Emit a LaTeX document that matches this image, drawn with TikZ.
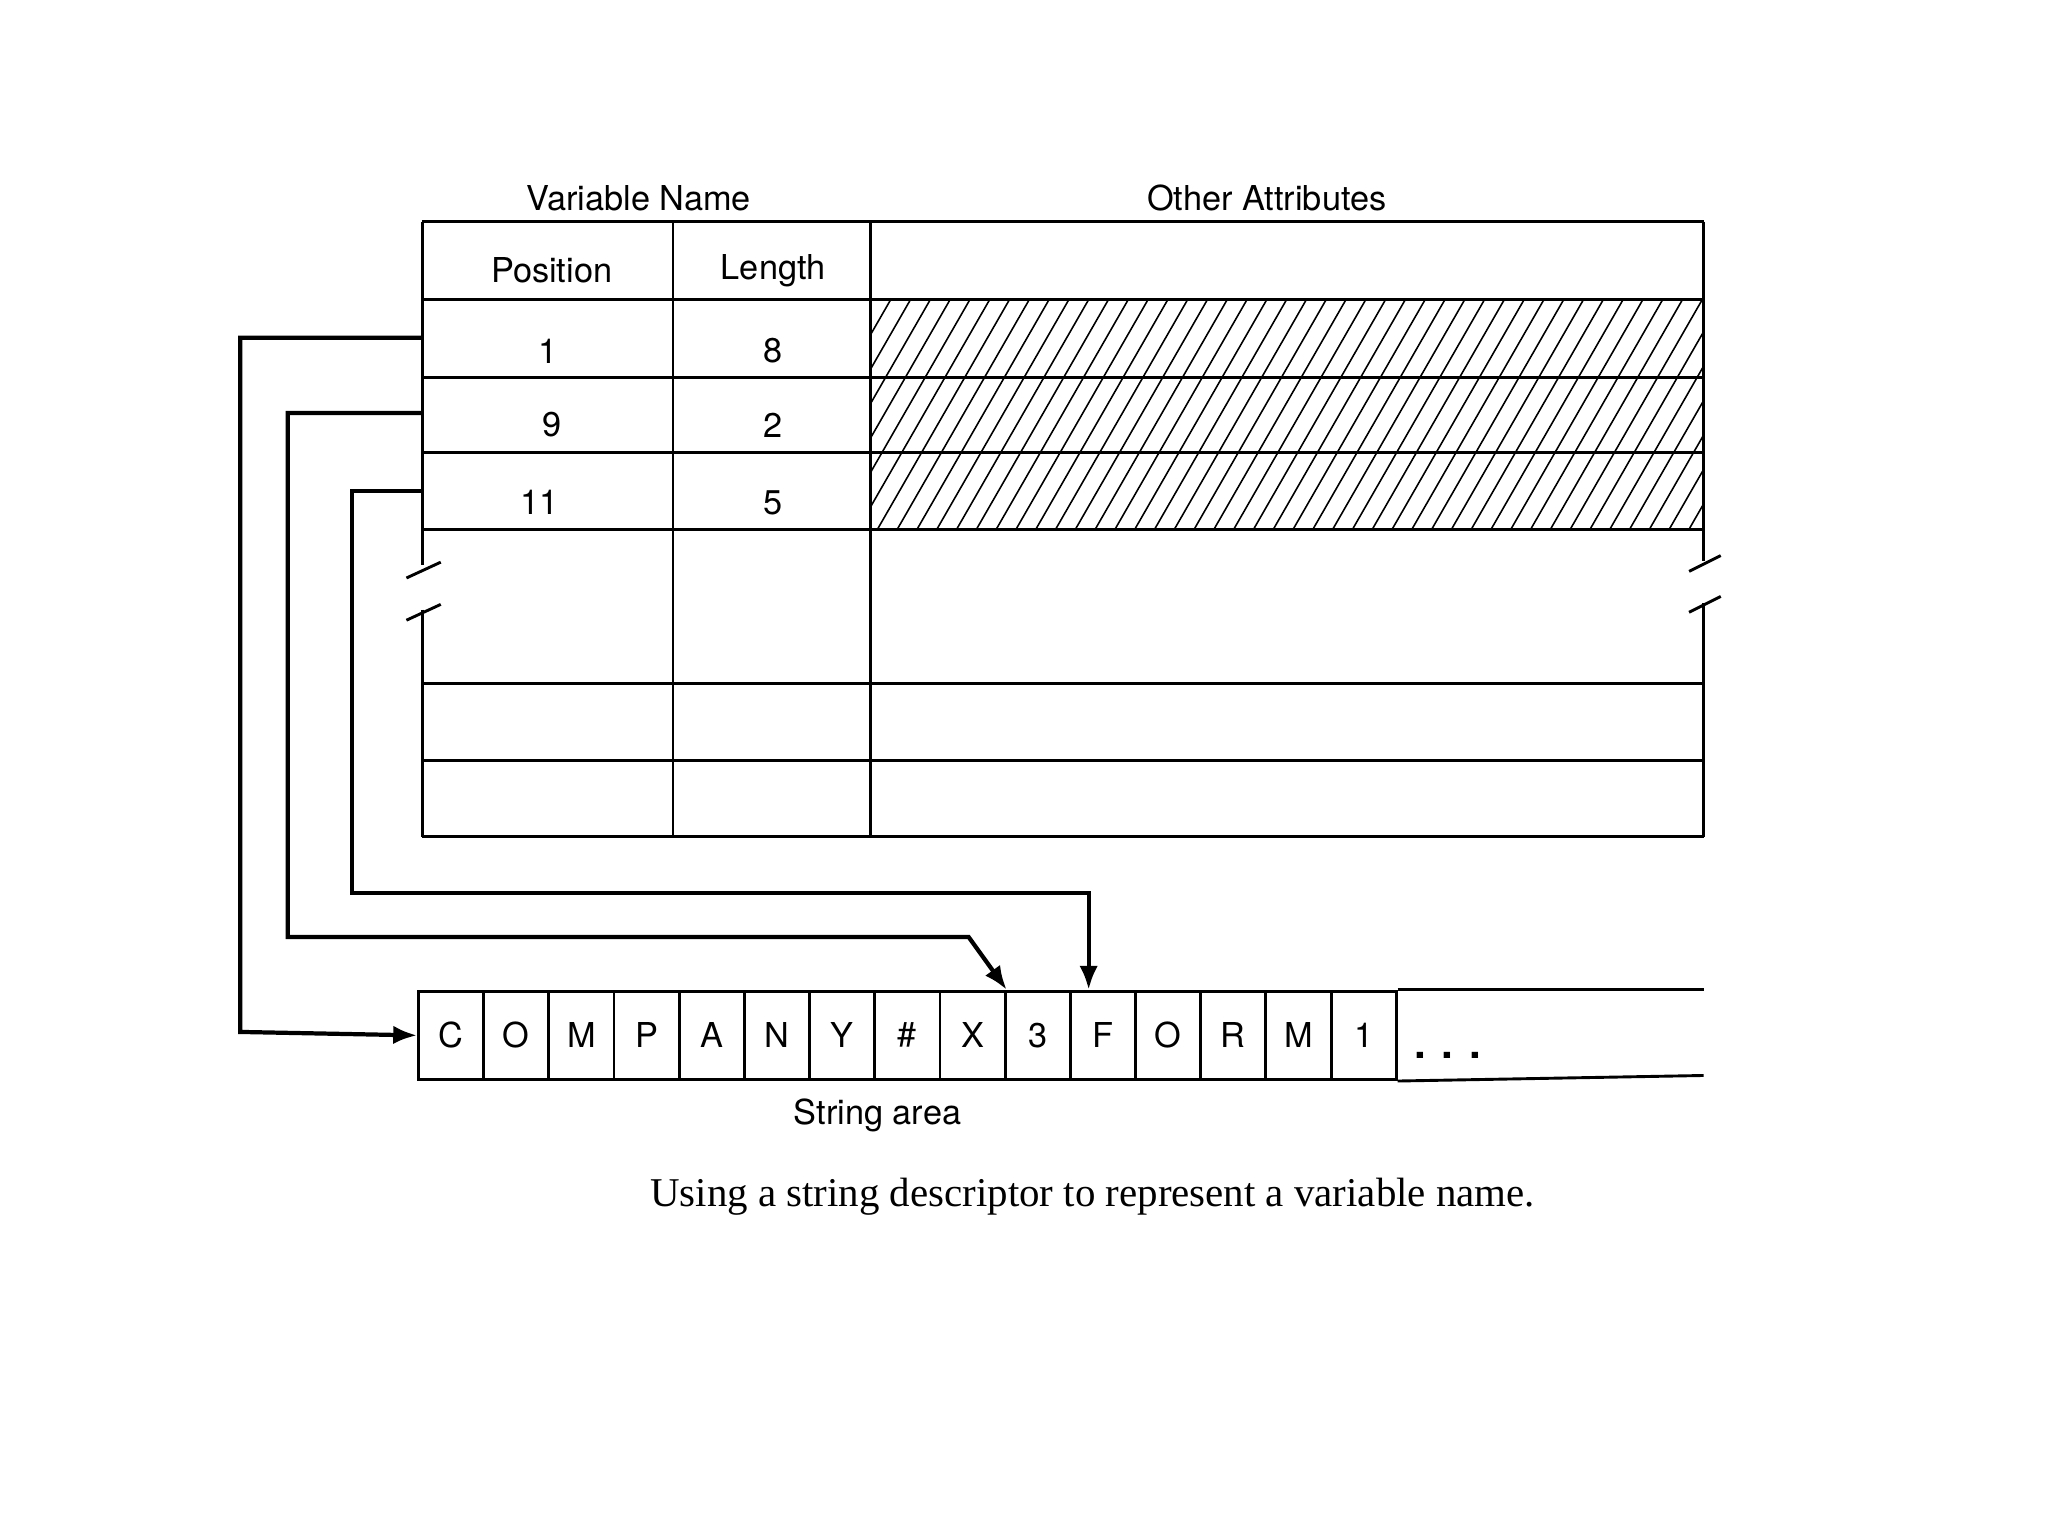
\documentclass[tikz,border=0pt]{standalone}
\usepackage{fontspec}
\setmainfont{Liberation Serif}
\newfontfamily\lab{TeX Gyre Heros}
\usetikzlibrary{arrows.meta}
\begin{document}
\begin{tikzpicture}[x=0.5pt,y=-0.5pt,
  ln/.style={line width=1.1pt},
  conn/.style={line width=1.6pt},
  tx/.style={font=\lab\fontsize{13}{15}\selectfont, inner sep=0pt},
  cell/.style={draw, line width=1.1pt, minimum width=24.7pt, minimum height=33.5pt, inner sep=0pt, font=\lab\fontsize{13}{15}\selectfont, anchor=north west}]
\useasboundingbox (0,0) rectangle (1552,1164);
% hatching
\begin{scope}
\clip (660,227) rectangle (1291,401);
\foreach \i in {0,...,48} {
  \draw[line width=0.6pt] (560+\i*15,401) -- (660+\i*15,227);
}
\end{scope}
% table lines
\draw[ln] (320,168) -- (1291,168);
\draw[ln] (1291,168) -- (1291,425) (1291,457) -- (1291,634);
\draw[ln] (320,168) -- (320,428) (320,462) -- (320,634);
\foreach \y in {227,286,343,401,518,576,634} \draw[ln] (320,\y) -- (1291,\y);
\draw[ln] (510,168) -- (510,634);
\draw[ln] (660,168) -- (660,634);
% break marks
\draw[ln] (308,438) -- (334,426) (308,470) -- (334,458);
\draw[ln] (1280,433) -- (1304,421) (1280,464) -- (1304,452);
% header text
\node[tx] (vn) at (484,150) {Variable Name};
\node[tx] (oa) at (960,150) {Other Attributes};
\node[tx] (pos) at (418,205) {Position};
\node[tx] (len) at (586,205) {Length};
\node[tx] (p1) at (415,266) {1};
\node[tx] (l1) at (586,266) {8};
\node[tx] (p2) at (418,322) {9};
\node[tx] (l2) at (586,322) {2};
\node[tx] (p3) at (409,381) {11};
\node[tx] (l3) at (586,381) {5};
\coordinate (r1) at (320,256);
\coordinate (r2) at (320,313);
\coordinate (r3) at (320,372);
% string cells
\foreach \c [count=\k from 0] in {C,O,M,P,A,N,Y,\#,X,3,F,O,R,M,1} {
  \node[cell] (s\k) at (316+\k*49.4,750) {\c};
}
\draw[ln] (s14.north east) -- (1291,750);
\draw[ln] (s14.south east) -- (1291,815);
\node[tx, font=\lab\bfseries\fontsize{16}{16}\selectfont] (dots) at (1097,800) {. . .};
\node[tx] (sa) at (665,845) {String area};
\node[inner sep=0pt, font=\fontsize{15.5}{18}\selectfont] (cap) at (828,907) {Using a string descriptor to represent a variable name.};
% connectors
\draw[conn,-{Latex[length=9pt,width=7pt]}] (r1) -- (182,256) -- (182,782) -- (s0.west);
\draw[conn,-{Latex[length=9pt,width=7pt]}] (r2) -- (218,313) -- (218,710) -- (734,710) -- (s8.north east);
\draw[conn,-{Latex[length=9pt,width=7pt]}] (r3) -- (267,372) -- (267,677) -- (825,677) -- (825,750);
\end{tikzpicture}
\end{document}
